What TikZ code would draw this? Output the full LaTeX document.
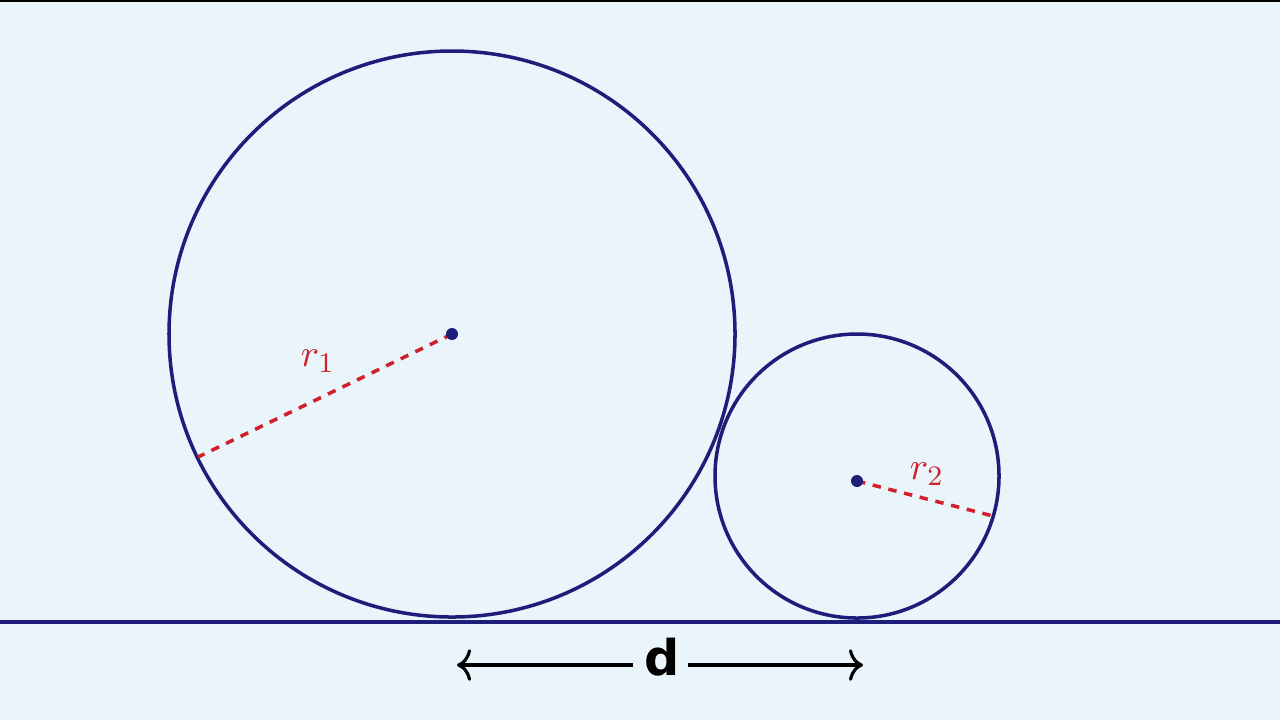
\documentclass[tikz,border=0pt]{standalone}
\usepackage{fontspec}
\setsansfont{DejaVu Sans}
\usetikzlibrary{arrows.meta}
\definecolor{bg}{HTML}{E9F4FB}
\definecolor{navy}{HTML}{1E1E7A}
\definecolor{rred}{HTML}{D0202A}
\tikzset{circ/.style={draw=navy,line width=1pt},
 rad/.style={draw=rred,line width=1pt,dash pattern=on 2.4pt off 2.2pt},
 lab/.style={text=rred,font=\sffamily\fontsize{11}{11}\selectfont}}
\begin{document}
\begin{tikzpicture}[x=0.01cm,y=-0.01cm]
\fill[bg] (0,0) rectangle (1280,720);
\useasboundingbox (0,0) rectangle (1280,720);
\draw[black,line width=0.6pt] (0,1) -- (1280,1);
\coordinate (c1) at (452,334);
\coordinate (c2) at (857,476);
\draw[circ] (c1) circle (283);
\draw[circ] (c2) circle (142);
\coordinate (g1) at (0,622); \coordinate (g2) at (1280,622);
\draw[navy,line width=1pt] (g1) -- (g2);
\coordinate (p1) at (198,457);
\coordinate (p2) at (993,516);
\draw[rad] (c1) -- (p1);
\draw[rad] (857,481) -- (p2);
\fill[navy] (c1) circle (6);
\fill[navy] (857,481) circle (6);
\node[lab] (r1) at (318,361) {$r_1$};
\node[lab] (r2) at (927,474) {$r_2$};
\node[font=\sffamily\bfseries\fontsize{14}{14}\selectfont] (d) at (662,657) {d};
\coordinate (a1) at (457,665); \coordinate (a2) at (863,665);
\coordinate (s1) at (633,665); \coordinate (s2) at (688,665);
\draw[line width=0.9pt,-{To[length=4pt,width=9pt]}] (s1) -- (a1);
\draw[line width=0.9pt,-{To[length=4pt,width=9pt]}] (s2) -- (a2);
\end{tikzpicture}
\end{document}
